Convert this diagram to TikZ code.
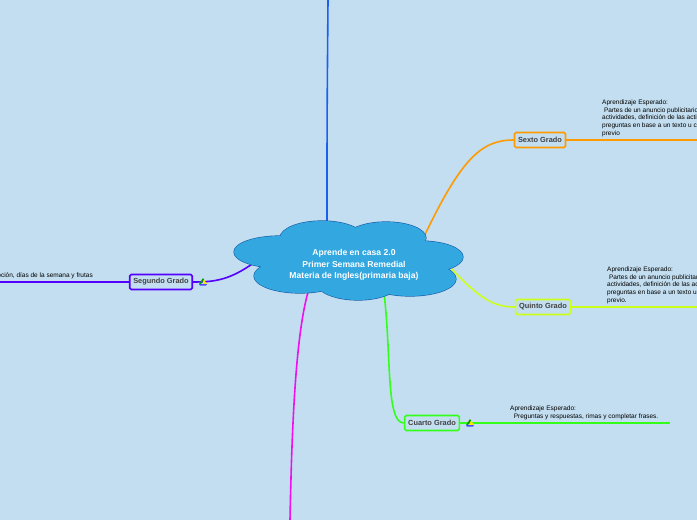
\documentclass[tikz,border=0pt]{standalone}
\usepackage{fontspec}
\setmainfont{Liberation Sans}
\definecolor{bg}{HTML}{C3DEF0}
\definecolor{cl}{HTML}{33A7E0}
\definecolor{cld}{HTML}{1A5FA8}
\definecolor{orn}{HTML}{FF9A00}
\definecolor{ylg}{HTML}{CCFF1A}
\definecolor{grn}{HTML}{33FF1A}
\definecolor{pur}{HTML}{5500FF}
\definecolor{mag}{HTML}{EE10EE}
\definecolor{blu}{HTML}{1A5FF0}
\tikzset{grade/.style={draw=#1,line width=1.6pt,rounded corners=1.5pt,fill=bg,font=\fontsize{7.4}{8}\selectfont\bfseries,text=black!75,inner xsep=3.5pt,minimum height=15pt},
 note/.style={font=\fontsize{6.5}{7.8}\selectfont,align=left,anchor=south west,inner sep=0pt},
 conn/.style={line width=1.6pt}}
\begin{document}
\begin{tikzpicture}[x=1pt,y=-1pt]
\fill[bg] (0,0) rectangle (697,520);
\clip (0,0) rectangle (697,520);
\useasboundingbox (0,0) rectangle (697,520);
\coordinate (topend) at (328,0);
\coordinate (botend) at (290,520);
\coordinate (e6) at (697,140);
\coordinate (e5) at (697,307);
\coordinate (e4) at (670,423);
\coordinate (e2) at (0,282);
\node[grade=orn] (s6) at (540,140) {Sexto Grado};
\node[grade=ylg] (s5) at (543,307) {Quinto Grado};
\node[grade=grn] (s4) at (432,423) {Cuarto Grado};
\node[grade=pur] (s2) at (161,282) {Segundo Grado};
\coordinate (c1) at (327,230);
\coordinate (c2) at (312,280);
\coordinate (c3) at (420,245);
\coordinate (c4) at (448,265);
\coordinate (c5) at (383,285);
\coordinate (c6) at (255,262);
\draw[conn,blu] (c1) .. controls (327,120) .. (topend);
\draw[conn,mag] (c2) .. controls (296,320) and (292,420) .. (botend);
\draw[conn,orn] (c3) .. controls (460,160) and (480,140) .. (s6.west);
\draw[conn,orn] (s6.east) -- (e6);
\draw[conn,ylg] (c4) .. controls (480,300) and (495,307) .. (s5.west);
\draw[conn,ylg] (s5.east) -- (e5);
\draw[conn,grn] (c5) .. controls (392,350) and (385,423) .. (s4.west);
\draw[conn,grn] (s4.east) -- (e4);
\draw[conn,pur] (c6) .. controls (230,280) and (215,282) .. (s2.east);
\draw[conn,pur] (s2.west) -- (e2);
\def\cloudparts{
 (280,252) ellipse [x radius=46,y radius=16]
 (322,238) ellipse [x radius=42,y radius=17]
 (386,238) ellipse [x radius=40,y radius=16]
 (420,257) ellipse [x radius=43,y radius=16]
 (300,276) ellipse [x radius=46,y radius=17]
 (358,282) ellipse [x radius=42,y radius=18]
 (410,279) ellipse [x radius=46,y radius=17]
 (349,260) ellipse [x radius=90,y radius=24]}
\draw[cld,line width=1.2pt,fill=cl] \cloudparts;
\fill[cl] \cloudparts;
\node[font=\fontsize{8.6}{11.5}\selectfont\bfseries,text=white,align=center] (main) at (354,265)
 {Aprende en casa 2.0\\Primer Semana Remedial\\Materia de Ingles(primaria baja)};
\node[note] (n6) at (602,137) {Aprendizaje Esperado:\\ \ Partes de un anuncio publicitario,\\actividades, definición de las actividades,\\preguntas en base a un texto u conocimiento\\previo};
\node[note] (n5) at (607,304) {Aprendizaje Esperado:\\ \ Partes de un anuncio publicitario,\\actividades, definición de las actividades,\\preguntas en base a un texto u conocimiento\\previo.};
\node[note] (n4) at (510,420) {Aprendizaje Esperado:\\ \ \ Preguntas y respuestas, rimas y completar frases.};
\node[note,anchor=south east] (n2) at (93,279) {Aprendizaje Esperado:\\Vocabulario: animales, descripción, días de la semana y frutas};
\foreach \x/\y in {203/282,470/423}{
 \fill[yellow!90!orange] (\x,\y-4) -- (\x+4,\y+2) -- (\x,\y+2) -- cycle;
 \fill[green!60!black] (\x,\y-4) -- (\x-4,\y+2) -- (\x-2,\y+2) -- (\x+1,\y-2.5) -- cycle;
 \fill[blue!70] (\x-4,\y+2) -- (\x+4,\y+2) -- (\x+3,\y+3.5) -- (\x-3,\y+3.5) -- cycle;
}
\end{tikzpicture}
\end{document}
